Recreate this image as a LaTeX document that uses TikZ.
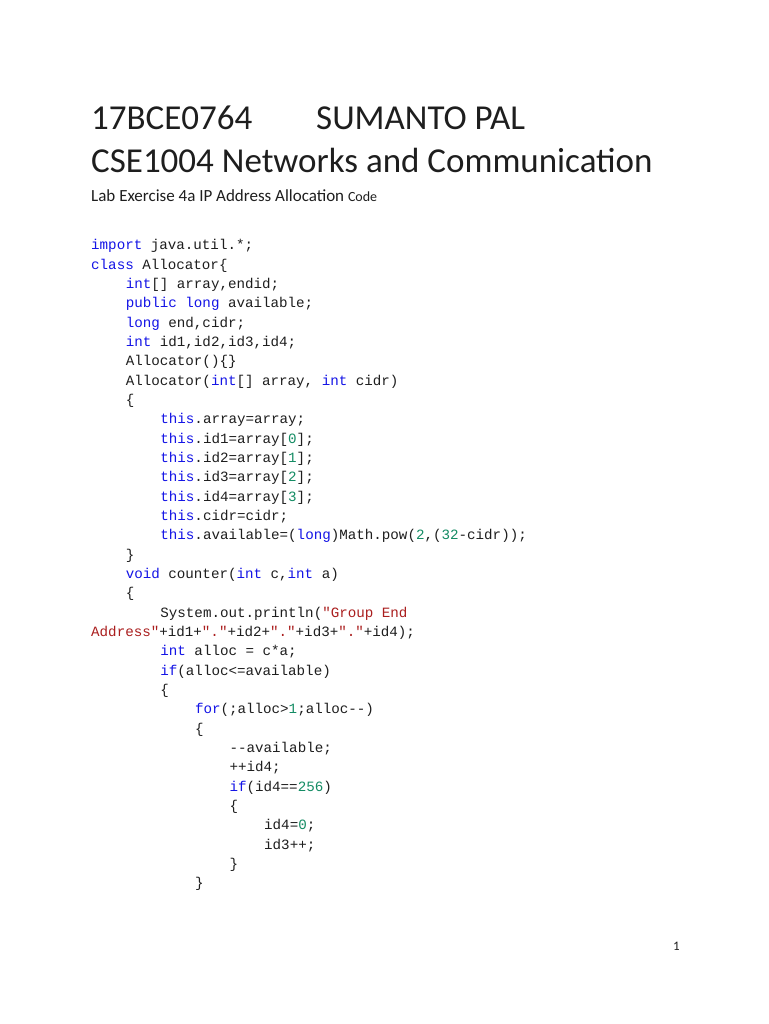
\documentclass[tikz,border=0pt]{standalone}
\usepackage{fontspec}
\setmainfont{Carlito}
\newfontfamily\codef{Liberation Mono}
\definecolor{kw}{RGB}{20,20,230}
\definecolor{nm}{RGB}{20,140,100}
\definecolor{st}{RGB}{170,30,30}
\definecolor{tx}{RGB}{30,30,30}
\newcommand\kw[1]{\textcolor{kw}{#1}}
\newcommand\nm[1]{\textcolor{nm}{#1}}
\newcommand\st[1]{\textcolor{st}{#1}}
\tikzset{codeline/.style={anchor=base west,inner sep=0pt,font=\codef\fontsize{14.2}{16}\selectfont,text=tx},
 title/.style={anchor=base west,inner sep=0pt,font=\fontsize{35}{40}\selectfont,text=tx}}
\newcommand\cl[3]{\node[codeline] at ({91+8.65*#1},{1024-(250+19.33*#2)}) {#3};}
\begin{document}
\begin{tikzpicture}[x=1pt,y=1pt]
\useasboundingbox[fill=white] (0,0) rectangle (768,1024);
\node[title] (t1) at (91,{1024-130}) {17BCE0764};
\node[title] (t2) at (316,{1024-130}) {SUMANTO PAL};
\node[title] (t3) at (91,{1024-173}) {CSE1004 Networks and Communication};
\node[anchor=base west,inner sep=0pt,text=tx] (t4) at (91,{1024-202}) {\fontsize{17}{20}\selectfont Lab Exercise 4a IP Address Allocation \fontsize{14}{16}\selectfont Code};
\cl{0}{0}{\kw{import} java.util.*;}
\cl{0}{1}{\kw{class} Allocator\{}
\cl{4}{2}{\kw{int}[] array,endid;}
\cl{4}{3}{\kw{public} \kw{long} available;}
\cl{4}{4}{\kw{long} end,cidr;}
\cl{4}{5}{\kw{int} id1,id2,id3,id4;}
\cl{4}{6}{Allocator()\{\}}
\cl{4}{7}{Allocator(\kw{int}[] array, \kw{int} cidr)}
\cl{4}{8}{\{}
\cl{8}{9}{\kw{this}.array=array;}
\cl{8}{10}{\kw{this}.id1=array[\nm{0}];}
\cl{8}{11}{\kw{this}.id2=array[\nm{1}];}
\cl{8}{12}{\kw{this}.id3=array[\nm{2}];}
\cl{8}{13}{\kw{this}.id4=array[\nm{3}];}
\cl{8}{14}{\kw{this}.cidr=cidr;}
\cl{8}{15}{\kw{this}.available=(\kw{long})Math.pow(\nm{2},(\nm{32}-cidr));}
\cl{4}{16}{\}}
\cl{4}{17}{\kw{void} counter(\kw{int} c,\kw{int} a)}
\cl{4}{18}{\{}
\cl{8}{19}{System.out.println(\st{"Group End}}
\cl{0}{20}{\st{Address"}+id1+\st{"."}+id2+\st{"."}+id3+\st{"."}+id4);}
\cl{8}{21}{\kw{int} alloc = c*a;}
\cl{8}{22}{\kw{if}(alloc<=available)}
\cl{8}{23}{\{}
\cl{12}{24}{\kw{for}(;alloc>\nm{1};alloc-{}-)}
\cl{12}{25}{\{}
\cl{16}{26}{-{}-available;}
\cl{16}{27}{++id4;}
\cl{16}{28}{\kw{if}(id4==\nm{256})}
\cl{16}{29}{\{}
\cl{20}{30}{id4=\nm{0};}
\cl{20}{31}{id3++;}
\cl{16}{32}{\}}
\cl{12}{33}{\}}
\node[anchor=base west,inner sep=0pt,font=\fontsize{13}{15}\selectfont,text=tx] (pg) at (673,{1024-951}) {1};
\end{tikzpicture}
\end{document}
